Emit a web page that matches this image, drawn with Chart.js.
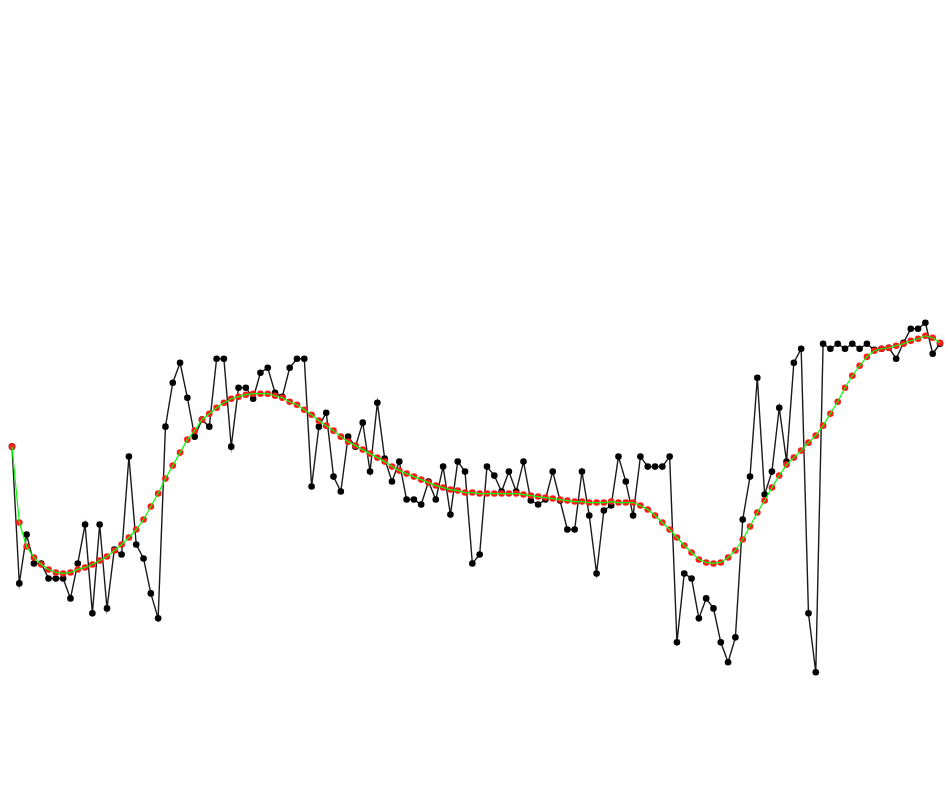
<!DOCTYPE html>
<html>
<head>
<meta charset="utf-8">
<script src="https://cdn.jsdelivr.net/npm/chart.js@4/dist/chart.umd.min.js"></script>
<style>
    html, body { margin: 0; padding: 0; background: #ffffff; }
    canvas { display: block; }
</style>
</head>
<body>
<canvas id="chartSmooth" width="948" height="798"></canvas>
<script>

// raw measurements (noisy series)
const rawValues = [
    25.4, 11.7, 16.6, 13.7, 13.7, 12.2, 12.2, 12.2, 10.2, 13.7,
    17.6, 8.7, 17.6, 9.2, 15.1, 14.6, 24.4, 15.6, 14.2, 10.7,
    8.2, 27.4, 31.8, 33.8, 30.3, 26.4, 28.1, 27.4, 34.2, 34.2,
    25.4, 31.3, 31.3, 30.2, 32.8, 33.3, 30.8, 30.4, 33.3, 34.2,
    34.2, 21.4, 27.4, 28.8, 22.4, 20.9, 26.4, 25.4, 27.8, 22.9,
    29.8, 24.2, 21.9, 23.9, 20.1, 20.1, 19.6, 21.9, 20.1, 23.4,
    18.6, 23.9, 22.9, 13.7, 14.6, 23.4, 22.5, 20.9, 22.9, 20.9,
    23.9, 20.0, 19.6, 20.1, 22.9, 20.0, 17.1, 17.1, 22.9, 18.5,
    12.7, 19.0, 19.5, 24.4, 21.9, 18.5, 24.4, 23.4, 23.4, 23.4,
    24.4, 5.8, 12.7, 12.2, 8.2, 10.2, 9.2, 5.8, 3.8, 6.3,
    18.1, 22.4, 32.3, 20.6, 22.9, 29.3, 23.9, 33.8, 35.2, 8.7,
    2.8, 35.7, 35.2, 35.7, 35.2, 35.7, 35.2, 35.7, 35.1, 35.2,
    35.3, 34.2, 35.8, 37.2, 37.2, 37.8, 34.7, 35.7
];

// smoothed curve
const smoothValues = [
    25.4, 17.8, 15.4, 14.3, 13.6, 13.1, 12.8, 12.7, 12.8, 13.1,
    13.3, 13.6, 14.0, 14.4, 15.0, 15.6, 16.3, 17.1, 18.1, 19.4,
    20.7, 22.2, 23.5, 24.8, 26.1, 27.0, 28.1, 28.7, 29.3, 29.8,
    30.2, 30.4, 30.6, 30.7, 30.7, 30.7, 30.5, 30.3, 29.9, 29.6,
    29.1, 28.6, 28.0, 27.5, 27.0, 26.4, 25.9, 25.5, 25.1, 24.7,
    24.3, 23.9, 23.4, 23.0, 22.7, 22.4, 22.1, 21.8, 21.5, 21.3,
    21.1, 21.0, 20.8, 20.8, 20.7, 20.7, 20.7, 20.7, 20.7, 20.7,
    20.6, 20.5, 20.4, 20.3, 20.2, 20.1, 20.0, 19.9, 19.9, 19.8,
    19.8, 19.8, 19.9, 19.8, 19.8, 19.8, 19.5, 19.1, 18.5, 17.8,
    17.1, 16.3, 15.5, 14.8, 14.1, 13.8, 13.7, 13.8, 14.3, 15.0,
    16.1, 17.4, 18.8, 20.0, 21.3, 22.5, 23.6, 24.3, 25.0, 25.8,
    26.5, 27.5, 28.7, 29.9, 31.3, 32.5, 33.5, 34.4, 35.0, 35.2,
    35.3, 35.5, 35.7, 36.0, 36.2, 36.5, 36.3, 35.8
];

const labels = rawValues.map((_, i) => i + 1);

const yMin = -9.39;
const yMax = 69.73;

let chartSmooth = null;

function createSmoothChart() {

    chartSmooth = new Chart(

        document.getElementById("chartSmooth"),

        {
            type: "line",

            data: {

                labels: labels,

                datasets: [
                    {
                        label: "smooth line",
                        data: smoothValues,
                        borderColor: "#00ff00",
                        borderWidth: 1.2,
                        pointRadius: 0,
                        fill: false,
                        tension: 0,
                        clip: false
                    },
                    {
                        label: "smooth points",
                        data: smoothValues,
                        showLine: false,
                        pointRadius: 3.3,
                        pointBackgroundColor: "#ff1a1a",
                        pointBorderWidth: 0,
                        clip: false
                    },
                    {
                        label: "raw",
                        data: rawValues,
                        borderColor: "#1a1a1a",
                        borderWidth: 1.4,
                        pointRadius: 3.3,
                        pointBackgroundColor: "#000000",
                        pointBorderWidth: 0,
                        fill: false,
                        tension: 0,
                        clip: false
                    }
                ]
            },

            options: {

                responsive: false,

                animation: false,

                devicePixelRatio: 1,

                layout: {
                    padding: { left: 12, right: 8, top: 0, bottom: 0 }
                },

                plugins: {
                    legend: { display: false },
                    tooltip: { enabled: false }
                },

                scales: {

                    x: {
                        display: false
                    },

                    y: {
                        display: false,
                        min: yMin,
                        max: yMax
                    }
                }
            }
        }
    );
}

createSmoothChart();
</script>
</body>
</html>
